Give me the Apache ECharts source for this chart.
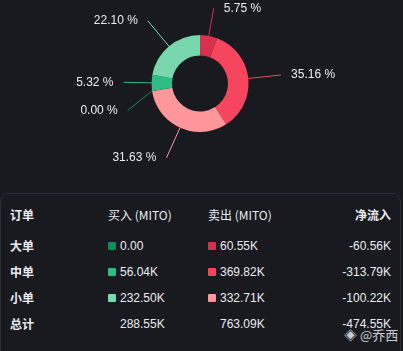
<!DOCTYPE html>
<html lang="zh">
<head>
    <meta charset="UTF-8">
    <title>资金流向</title>
    <script src="https://cdn.jsdelivr.net/npm/echarts@6/dist/echarts.min.js"></script>
    <style>
        html, body { margin: 0; padding: 0; background: #181a20; }
        body { width: 403px; height: 351px; overflow: hidden; position: relative;
               font-family: "Liberation Sans", "Noto Sans CJK SC", sans-serif; color: #eaecef; }
        #pie { position: absolute; left: 0; top: -20px; width: 403px; height: 210px; }
        .box { position: absolute; left: 0; top: 193px; width: 399px; height: 170px;
               border: 1px solid #2b2f36; border-radius: 9px; }
        .row { position: absolute; left: 0; width: 403px; height: 16px; font-size: 12px; line-height: 16px; }
        .row span { position: absolute; white-space: nowrap; }
        .lbl { left: 10px; font-weight: bold; font-family: "Noto Sans CJK SC", sans-serif; }
        .c1 { left: 108px; }
        .c2 { left: 208px; }
        .c3 { right: 12px; text-align: right; }
        .sq { display: inline-block; width: 8px; height: 8px; border-radius: 1px; margin-right: 4px; vertical-align: 0px; }
        .hdr span { font-family: "Noto Sans CJK SC", sans-serif; }
        .wm { position: absolute; left: 344px; top: 325px; font-size: 13px; color: #eaecef; opacity: 0.85;
              font-family: "Noto Sans CJK SC", sans-serif; }
    </style>
</head>
<body>
    <div id="pie"></div>
    <div class="box"></div>
    <div id="table"></div>
    <div class="wm">◈ @乔西</div>

    <script>
        const categories = ['大单', '中单', '小单'];
        const buyValues = [0.00, 56.04, 232.50];      // K MITO
        const sellValues = [60.55, 369.82, 332.71];   // K MITO
        const netValues = [-60.56, -313.79, -100.22]; // K MITO
        const totals = [288.55, 763.09, -474.55];
        const sellPercents = [5.75, 35.16, 31.63];
        const buyPercents = [0.00, 5.32, 22.10];
        const buyColors = ['#138a5b', '#2ebd85', '#78d7ad'];
        const sellColors = ['#d9304e', '#f6465d', '#ff969c'];

        function fmt(v) {
            return v === 0 ? '0.00' : v.toFixed(2) + 'K';
        }

        // pie: sell slices first (clockwise from top), then buy slices
        const pieData = [];
        sellPercents.forEach((p, i) => pieData.push({ name: '卖出' + categories[i], value: p, itemStyle: { color: sellColors[i] } }));
        buyPercents.forEach((p, i) => pieData.push({ name: '买入' + categories[i], value: p, itemStyle: { color: buyColors[i] } }));
        // top slice label sits close to the edge, shorter line keeps it inside
        pieData[0].labelLine = { length: 28 };

        const chart = echarts.init(document.getElementById('pie'));
        chart.setOption({
            animation: false,
            series: [{
                type: 'pie',
                center: [200, 103.5],
                radius: [28, 48.5],
                startAngle: 90,
                clockwise: true,
                minShowLabelAngle: 0,
                avoidLabelOverlap: true,
                itemStyle: { borderWidth: 0 },
                label: {
                    color: '#eaecef',
                    fontSize: 12,
                    fontFamily: 'Liberation Sans',
                    lineHeight: 26,
                    padding: [0, 5],
                    formatter: p => p.value.toFixed(2) + ' %'
                },
                labelLine: { length: 33, length2: 0, lineStyle: { width: 1 } },
                data: pieData
            }]
        });

        const table = document.getElementById('table');
        let html = `<div class="row hdr" style="top:207px">
            <span class="lbl">订单</span>
            <span class="c1">买入 (MITO)</span>
            <span class="c2">卖出 (MITO)</span>
            <span class="c3" style="font-weight:bold">净流入</span></div>`;
        const rowTops = [238, 264, 290];
        categories.forEach((c, i) => {
            html += `<div class="row" style="top:${rowTops[i]}px">
                <span class="lbl">${c}</span>
                <span class="c1"><i class="sq" style="background:${buyColors[i]}"></i>${fmt(buyValues[i])}</span>
                <span class="c2"><i class="sq" style="background:${sellColors[i]}"></i>${fmt(sellValues[i])}</span>
                <span class="c3">${fmt(netValues[i])}</span></div>`;
        });
        html += `<div class="row" style="top:316px">
            <span class="lbl">总计</span>
            <span class="c1" style="left:120px">${fmt(totals[0])}</span>
            <span class="c2" style="left:220px">${fmt(totals[1])}</span>
            <span class="c3">${fmt(totals[2])}</span></div>`;
        table.innerHTML = html;
    </script>
</body>
</html>
